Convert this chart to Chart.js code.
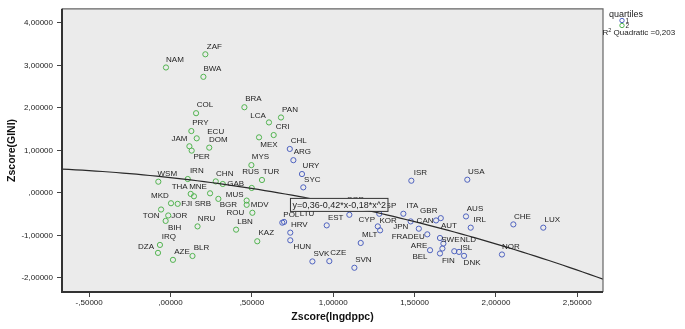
<!DOCTYPE html>
<html>
<head>
<meta charset="utf-8">
<script src="https://cdn.jsdelivr.net/npm/chart.js@4.4.1/dist/chart.umd.min.js"></script>
<style>
  html, body { margin: 0; padding: 0; background: #fff; }
  #wrap { width: 685px; height: 329px; }
</style>
</head>
<body>
<div id="wrap"><canvas id="chart" width="685" height="329"></canvas></div>
<script>
// quartile 1 (blue)
const q1Codes = ["CHL", "ARG", "URY", "SYC", "POL", "LTU", "HRV", "HUN", "EST", "SVK", "CZE", "SVN", "MLT",
  "SGP", "CYP", "ESP", "KOR", "ITA", "FRA", "JPN", "DEU", "CAN", "GBR", "AUT", "SWE", "ARE", "BEL",
  "NLD", "ISL", "FIN", "DNK", "AUS", "IRL", "ISR", "USA", "CHE", "LUX", "NOR"];
const q1X = [0.733, 0.755, 0.808, 0.816, 0.687, 0.698, 0.736, 0.736, 0.960, 0.872, 0.976, 1.130, 1.169,
  1.099, 1.274, 1.283, 1.288, 1.431, 1.476, 1.526, 1.578, 1.632, 1.661, 1.656, 1.677, 1.595, 1.656,
  1.773, 1.744, 1.671, 1.804, 1.816, 1.845, 1.480, 1.824, 2.107, 2.291, 2.037];
const q1Y = [1.034, 0.770, 0.444, 0.131, -0.700, -0.682, -0.934, -1.114, -0.763, -1.611, -1.604, -1.760, -1.177,
  -0.514, -0.787, -0.490, -0.880, -0.490, -0.670, -0.841, -0.974, -0.647, -0.593, -1.060, -1.191, -1.347, -1.424,
  -1.387, -1.371, -1.307, -1.480, -0.553, -0.817, 0.287, 0.311, -0.740, -0.817, -1.448];

// quartile 2 (green)
const q2Codes = ["NAM", "ZAF", "BWA", "COL", "PRY", "ECU", "JAM", "DOM", "PER", "BRA", "PAN", "LCA", "CRI",
  "MEX", "MYS", "RUS", "TUR", "IRN", "CHN", "GAB", "WSM", "THA", "SRB", "MNE", "BGR", "MUS", "MDV", "ROU",
  "MKD", "FJI", "TON", "JOR", "BIH", "IRQ", "DZA", "AZE", "BLR", "NRU", "LBN", "KAZ"];
const q2X = [-0.028, 0.214, 0.202, 0.157, 0.128, 0.161, 0.116, 0.238, 0.130, 0.454, 0.679, 0.605, 0.634,
  0.544, 0.497, 0.499, 0.562, 0.106, 0.278, 0.321, -0.075, 0.124, 0.144, 0.243, 0.294, 0.468, 0.468, 0.503,
  0.003, 0.044, -0.058, -0.014, -0.030, -0.065, -0.077, 0.015, 0.135, 0.166, 0.403, 0.533];
const q2Y = [2.95, 3.26, 2.73, 1.875, 1.455, 1.284, 1.097, 1.065, 0.995, 2.015, 1.774, 1.658, 1.361,
  1.307, 0.654, 0.117, 0.304, 0.327, 0.271, 0.210, 0.264, -0.023, -0.079, -0.009, -0.140, -0.180, -0.280, -0.467,
  -0.243, -0.257, -0.390, -0.530, -0.658, -1.223, -1.410, -1.574, -1.483, -0.787, -0.864, -1.137];

// quadratic fit y = a + b*x + c*x^2
const fitCoef = [0.36, -0.42, -0.18];
const fitText = "y=0,36-0,42*x-0,18*x^2";
const r2Text = "0,203";

const xTicks = [-0.5, 0, 0.5, 1, 1.5, 2, 2.5];
const xTickLabels = ["-,50000", ",00000", ",50000", "1,00000", "1,50000", "2,00000", "2,50000"];
const yTicks = [4, 3, 2, 1, 0, -1, -2];
const yTickLabels = ["4,00000", "3,00000", "2,00000", "1,00000", ",00000", "-1,00000", "-2,00000"];

const X_MIN = -0.667, X_MAX = 2.658, Y_MIN = -2.33, Y_MAX = 4.33;

// label placement (pixels from the point), default up-right
const labelNudge = {
  ECU: [19, -7], JAM: [-10, -7], PER: [10, 6], LCA: [-11, -7], MEX: [10, 7], RUS: [-1, -16],
  GAB: [13, 0], THA: [-11, -7], MNE: [-12, -7], SRB: [9, 8], BGR: [10, 6], MUS: [-12, -6],
  MDV: [13, 0], ROU: [-17, 0], MKD: [-11, -7], FJI: [9, 0], TON: [-10, 6], JOR: [11, 0],
  BIH: [9, 7], DZA: [-12, -6],
  LTU: [23, -8], HUN: [12, 7], SGP: [6, -15], CYP: [-11, -7], KOR: [8, -10], FRA: [-11, 15],
  JPN: [-18, -2], DEU: [-11, 2], CAN: [-11, 0], GBR: [-12, -7], AUT: [9, -12], SWE: [7, -4],
  ARE: [-11, -4], BEL: [-20, 3], NLD: [9, -12], ISL: [12, -3], FIN: [6, 12], DNK: [8, 7]
};
const eqAnchor = { x: 0.734, y: -0.117 };

const FONT = 'Arial, "Liberation Sans", sans-serif';
const BLUE = '#4f63c0';
const GREEN = '#52b450';

function toPoints(xs, ys) {
  return xs.map((x, i) => ({ x: x, y: ys[i] }));
}

function fitPoints() {
  const pts = [];
  const n = 80;
  for (let i = 0; i <= n; i++) {
    const x = X_MIN + (X_MAX - X_MIN) * i / n;
    pts.push({ x: x, y: fitCoef[0] + fitCoef[1] * x + fitCoef[2] * x * x });
  }
  return pts;
}

const plotFrame = {
  id: 'plotFrame',
  beforeDraw(chart) {
    const { ctx, chartArea: a } = chart;
    ctx.save();
    ctx.fillStyle = '#ebebeb';
    ctx.fillRect(a.left, a.top, a.right - a.left, a.bottom - a.top);
    ctx.restore();
  },
  afterDraw(chart) {
    const { ctx, chartArea: a } = chart;
    ctx.save();
    ctx.strokeStyle = '#666';
    ctx.lineWidth = 1.2;
    ctx.beginPath();
    ctx.moveTo(a.left, a.top);
    ctx.lineTo(a.right, a.top);
    ctx.lineTo(a.right, a.bottom);
    ctx.stroke();
    ctx.strokeStyle = '#333';
    ctx.lineWidth = 2;
    ctx.beginPath();
    ctx.moveTo(a.left, a.top);
    ctx.lineTo(a.left, a.bottom);
    ctx.lineTo(a.right, a.bottom);
    ctx.stroke();

    // legend
    ctx.fillStyle = '#222';
    ctx.textBaseline = 'middle';
    ctx.textAlign = 'left';
    ctx.font = '9px ' + FONT;
    ctx.fillText('quartiles', 609, 15);
    ctx.lineWidth = 1;
    ctx.strokeStyle = BLUE;
    ctx.beginPath(); ctx.arc(622, 20.5, 2.2, 0, Math.PI * 2); ctx.stroke();
    ctx.strokeStyle = GREEN;
    ctx.beginPath(); ctx.arc(622, 25.5, 2.2, 0, Math.PI * 2); ctx.stroke();
    ctx.font = '6.5px ' + FONT;
    ctx.fillText('1', 625.5, 21);
    ctx.fillText('2', 625.5, 26);
    ctx.font = '8px ' + FONT;
    ctx.fillText('R', 602.5, 33);
    let x = 602.5 + ctx.measureText('R').width;
    ctx.font = '5.5px ' + FONT;
    ctx.fillText('2', x, 30);
    x += ctx.measureText('2').width;
    ctx.font = '8px ' + FONT;
    ctx.fillText(' Quadratic =' + r2Text, x, 33);
    ctx.restore();
  }
};

const pointLabels = {
  id: 'pointLabels',
  afterDatasetsDraw(chart) {
    const ctx = chart.ctx;
    ctx.save();
    ctx.font = '8px ' + FONT;
    ctx.fillStyle = '#1e1e1e';
    ctx.textAlign = 'center';
    ctx.textBaseline = 'middle';
    [[0, q1Codes], [1, q2Codes]].forEach(([di, codes]) => {
      chart.getDatasetMeta(di).data.forEach((pt, i) => {
        const off = labelNudge[codes[i]] || [9, -8];
        ctx.fillText(codes[i], pt.x + off[0], pt.y + off[1]);
      });
    });

    // equation box
    const bx = chart.scales.x.getPixelForValue(eqAnchor.x);
    const by = chart.scales.y.getPixelForValue(eqAnchor.y);
    ctx.font = '9px ' + FONT;
    const w = ctx.measureText(fitText).width + 4;
    const h = 13;
    ctx.fillStyle = '#ebebeb';
    ctx.fillRect(bx, by, w, h);
    ctx.strokeStyle = '#333';
    ctx.lineWidth = 1;
    ctx.strokeRect(bx + 0.5, by + 0.5, w, h);
    ctx.fillStyle = '#1e1e1e';
    ctx.textAlign = 'left';
    ctx.fillText(fitText, bx + 2.5, by + h / 2 + 1);
    ctx.restore();
  }
};

new Chart(document.getElementById('chart'), {
  type: 'scatter',
  data: {
    datasets: [
      {
        label: '1',
        data: toPoints(q1X, q1Y),
        borderColor: BLUE,
        backgroundColor: 'rgba(0,0,0,0)',
        pointRadius: 2.6,
        borderWidth: 1,
        order: 2
      },
      {
        label: '2',
        data: toPoints(q2X, q2Y),
        borderColor: GREEN,
        backgroundColor: 'rgba(0,0,0,0)',
        pointRadius: 2.6,
        borderWidth: 1,
        order: 3
      },
      {
        label: 'Quadratic',
        data: fitPoints(),
        showLine: true,
        borderColor: '#2a2a2a',
        borderWidth: 1.2,
        pointRadius: 0,
        fill: false,
        order: 1
      }
    ]
  },
  options: {
    responsive: false,
    animation: false,
    events: [],
    layout: { padding: { left: 0, right: 82, top: 7, bottom: 0 } },
    plugins: {
      legend: { display: false },
      tooltip: { enabled: false }
    },
    scales: {
      x: {
        type: 'linear',
        min: X_MIN,
        max: X_MAX,
        afterBuildTicks: axis => { axis.ticks = xTicks.map(v => ({ value: v })); },
        afterFit: axis => { axis.height = 37; },
        border: { display: false },
        grid: { drawOnChartArea: false, drawTicks: true, tickLength: 5, color: '#444', lineWidth: 1 },
        ticks: {
          padding: 1,
          color: '#222',
          font: { family: FONT, size: 8 },
          callback: v => xTickLabels[xTicks.indexOf(v)]
        },
        title: {
          display: true,
          text: 'Zscore(lngdppc)',
          color: '#111',
          font: { family: FONT, size: 10.5, weight: 'bold' },
          padding: { top: 0, bottom: 6 }
        }
      },
      y: {
        type: 'linear',
        min: Y_MIN,
        max: Y_MAX,
        afterBuildTicks: axis => { axis.ticks = yTicks.map(v => ({ value: v })); },
        afterFit: axis => { axis.width = 62; },
        border: { display: false },
        grid: { drawOnChartArea: false, drawTicks: true, tickLength: 5, color: '#444', lineWidth: 1 },
        ticks: {
          padding: 4,
          color: '#222',
          font: { family: FONT, size: 8 },
          callback: v => yTickLabels[yTicks.indexOf(v)]
        },
        title: {
          display: true,
          text: 'Zscore(GINI)',
          color: '#111',
          font: { family: FONT, size: 10.5, weight: 'bold' },
          padding: { top: 6, bottom: 0 }
        }
      }
    }
  },
  plugins: [plotFrame, pointLabels]
});
</script>
</body>
</html>
